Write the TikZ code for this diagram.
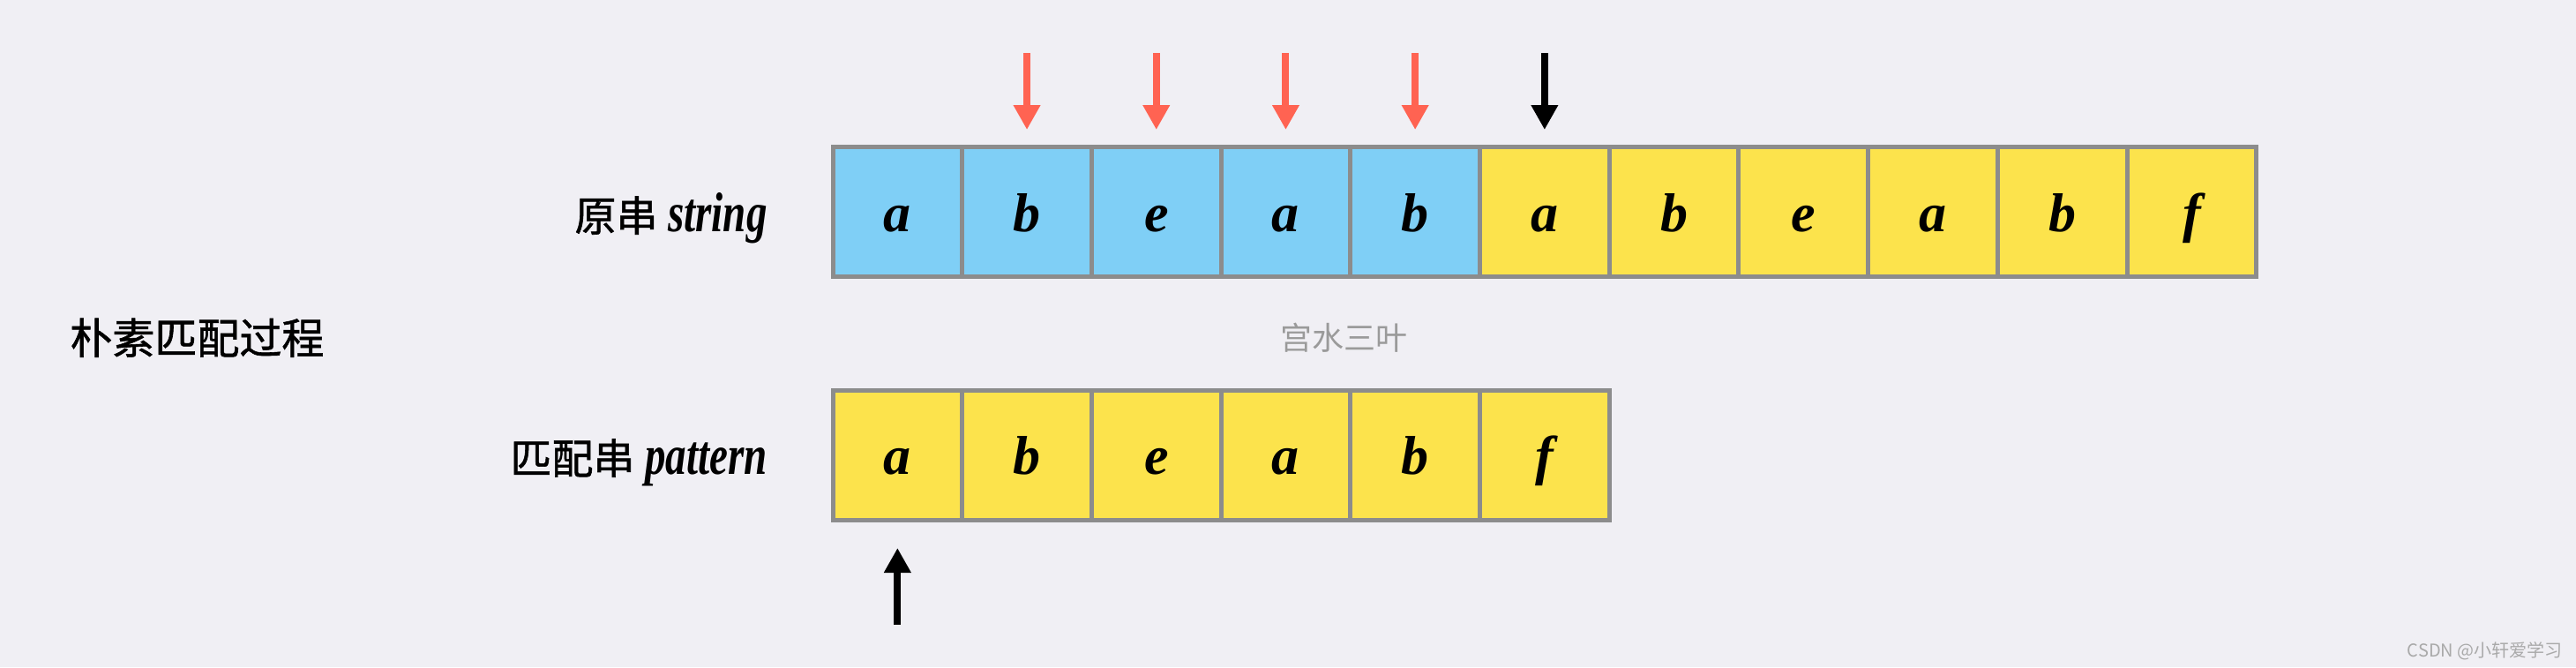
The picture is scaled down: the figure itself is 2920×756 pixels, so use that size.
\documentclass[tikz,border=0pt]{standalone}
\usepackage{fontspec}
\usepackage{graphicx}
\setmainfont{Liberation Serif}
\newfontfamily\cjk{Noto Sans CJK SC}
\newfontfamily\cjkdark{Noto Sans CJK SC}[FakeBold=1.2]
\usetikzlibrary{arrows.meta}
\definecolor{bgc}{HTML}{F0EFF4}
\definecolor{cblue}{HTML}{7FCFF6}
\definecolor{cyellow}{HTML}{FCE34C}
\definecolor{cborder}{HTML}{8C8C8C}
\definecolor{cred}{HTML}{FF6352}
\definecolor{cwater}{HTML}{9A9A9A}
\newcommand{\tallword}[1]{\scalebox{1}[1.35]{\textbf{\textit{#1}}}}
\tikzset{
  cell/.style={draw=cborder, line width=2.5pt, minimum width=73.35pt, minimum height=73.5pt,
    inner sep=0pt, outer sep=0pt, font=\fontsize{31}{31}\selectfont\bfseries\itshape,
    text height=22pt, text depth=0pt},
  ptr/.style={line width=4pt, -{Triangle[length=14pt,width=14.5pt]}},
  redptr/.style={ptr, draw=cred, shorten >=9.75pt},
  blackptr/.style={ptr, draw=black},
  lbl/.style={inner sep=0pt, anchor=base east, font=\fontsize{23.5}{23.5}\selectfont},
}
\begin{document}
\begin{tikzpicture}[x=0.5pt,y=-0.5pt]
\useasboundingbox (0,0) rectangle (2920,756);
\fill[bgc] (0,0) rectangle (2920,756);
% string row
\foreach \l [count=\i] in {a,b,e,a,b}
  \node[cell, fill=cblue] (s\i) at ({944+146.7*(\i-0.5)},240) {\l};
\foreach \l [count=\i from 6] in {a,b,e,a,b,f}
  \node[cell, fill=cyellow] (s\i) at ({944+146.7*(\i-0.5)},240) {\l};
% pattern row
\foreach \l [count=\i] in {a,b,e,a,b,f}
  \node[cell, fill=cyellow] (p\i) at ({944+146.7*(\i-0.5)},515.5) {\l};
% labels
\node[lbl] (lstr) at (870,262) {{\cjkdark 原串} \tallword{string}};
\node[lbl] (lpat) at (870,537) {{\cjkdark 匹配串} \tallword{pattern}};
\node[inner sep=0pt, anchor=base west, font=\fontsize{24}{24}\selectfont\cjkdark] (title) at (79,401) {朴素匹配过程};
\node[inner sep=0pt, font=\fontsize{18}{18}\selectfont\cjk, text=cwater] (wm) at (1523,383) {宫水三叶};
\node[inner sep=0pt, anchor=base east, font=\fontsize{10}{10}\selectfont\cjk, text=cwater!85] (csdn) at (2905,744) {CSDN @小轩爱学习};
% pointers
\foreach \i in {2,3,4,5} {
  \coordinate (t\i) at ({944+146.7*(\i-0.5)},60);
  \draw[redptr] (t\i) -- (s\i.north);
}
\coordinate (t6) at ({944+146.7*5.5},60);
\draw[blackptr, shorten >=9.75pt] (t6) -- (s6.north);
\coordinate (u1) at ({944+146.7*0.5},708);
\draw[blackptr, shorten >=16pt] (u1) -- (p1.south);
\end{tikzpicture}
\end{document}
